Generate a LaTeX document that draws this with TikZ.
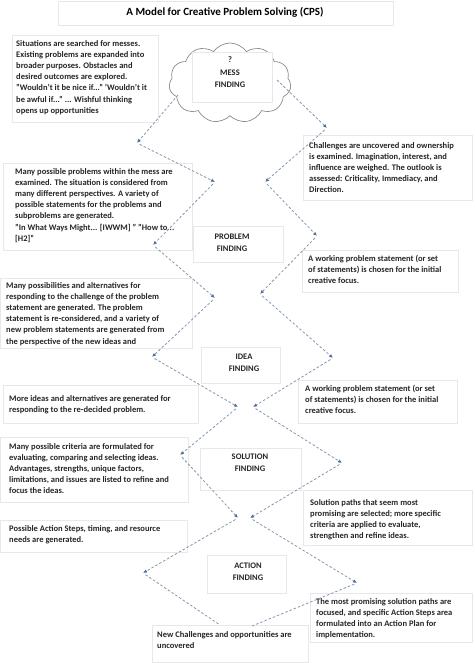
\documentclass[tikz,border=0pt]{standalone}
\usepackage{fontspec}
\setmainfont{Carlito}
\usetikzlibrary{shapes.symbols,arrows.meta}
\definecolor{linecol}{HTML}{8496B0}
\definecolor{tipcol}{HTML}{4F6F9F}
\definecolor{boxcol}{HTML}{E8E8E8}
\definecolor{cloudcol}{HTML}{8C8C8C}
\begin{document}
\begin{tikzpicture}[x=1pt,y=-1pt,
  txt/.style={anchor=north west,inner sep=0pt,align=left,font=\bfseries\fontsize{8.5}{11.2}\selectfont,text=black!85},
  lbl/.style={inner sep=0pt,align=center,font=\bfseries\fontsize{8.5}{12}\selectfont,text=black!85},
  faint/.style={draw=boxcol,line width=0.6pt},
  conn/.style={draw=linecol,line width=0.8pt,dash pattern=on 2.5pt off 2pt,shorten <=3pt,-{Latex[length=4pt,width=3.5pt,fill=tipcol,color=tipcol]}},
  connend/.style={draw=linecol,line width=0.8pt,dash pattern=on 2.5pt off 2pt,shorten <=3pt}]
\useasboundingbox (0,0) rectangle (474,663);
\fill[white] (0,0) rectangle (474,663);

% title
\draw[faint] (58,1) rectangle (393,25);
\node[font=\bfseries\fontsize{11}{13}\selectfont,inner sep=0pt] (title) at (225,12) {A Model for Creative Problem Solving (CPS)};

% cloud
\node[cloud,cloud puffs=11,cloud puff arc=110,aspect=1.6,draw=cloudcol,line width=0.7pt,fill=white,minimum width=122pt,minimum height=80pt,inner sep=0pt] (cloud) at (230,83) {};
\draw[faint,fill=white] (192,52) rectangle (272,102);
\node[lbl] (q) at (230,60) {?};
\node[lbl] (mess) at (230,79) {MESS\\FINDING};

% boxes
\draw[faint] (12,35) rectangle (158,122);
\node[txt] (t1) at (16,40) {Situations are searched for messes.\\Existing problems are expanded into\\broader purposes. Obstacles and\\desired outcomes are explored.\\"Wouldn't it be nice if..." 'Wouldn't it\\be awful if..." ... Wishful thinking\\opens up opportunities};

\draw[faint] (303,135) rectangle (472,200);
\node[txt] (t2) at (309,142) {Challenges are uncovered and ownership\\is examined. Imagination, interest, and\\influence are weighed. The outlook is\\assessed: Criticality, Immediacy, and\\Direction.};

\draw[faint] (3,163) rectangle (192,250);
\node[txt] (t3) at (15,168) {Many possible problems within the mess are\\examined. The situation is considered from\\many different perspectives. A variety of\\possible statements for the problems and\\subproblems are generated.\\ "In What Ways Might... [IWWM] " "How to...\\{[H2]"}};

\draw[faint] (193,226) rectangle (283,262);
\node[lbl] (pf) at (232,243) {PROBLEM\\FINDING};

\draw[faint] (302,250) rectangle (458,292);
\node[txt] (t4) at (308,255) {A working problem statement (or set\\of statements) is chosen for the initial\\creative focus.};

\draw[faint] (0,278) rectangle (192,348);
\node[txt] (t5) at (6,282) {Many possibilities and alternatives for\\responding to the challenge of the problem\\statement are generated. The problem\\statement is re-considered, and a variety of\\new problem statements are generated from\\the perspective of the new ideas and};

\draw[faint] (201,347) rectangle (280,383);
\node[lbl] (if) at (244,363) {IDEA\\FINDING};

\draw[faint] (3,385) rectangle (198,423);
\node[txt] (t6) at (9,395) {More ideas and alternatives are generated for\\responding to the re-decided problem.};

\draw[faint] (298,380) rectangle (457,423);
\node[txt] (t7) at (305,385) {A working problem statement (or set\\of statements) is chosen for the initial\\creative focus.};

\draw[faint] (0,437) rectangle (188,502);
\node[txt] (t8) at (9,443) {Many possible criteria are formulated for\\evaluating, comparing and selecting ideas.\\Advantages, strengths, unique factors,\\limitations, and issues are listed to refine and\\focus the ideas.};

\draw[faint] (200,448) rectangle (301,490);
\node[lbl] (sf) at (250,463) {SOLUTION\\FINDING};

\draw[faint] (303,490) rectangle (472,545);
\node[txt] (t9) at (310,499) {Solution paths that seem most\\promising are selected; more specific\\criteria are applied to evaluate,\\strengthen and refine ideas.};

\draw[faint] (0,520) rectangle (187,552);
\node[txt] (t10) at (9,525) {Possible Action Steps, timing, and resource\\needs are generated.};

\draw[faint] (207,555) rectangle (286,593);
\node[lbl] (af) at (248,572) {ACTION\\FINDING};

\draw[faint] (310,593) rectangle (472,642);
\node[txt] (t11) at (316,598) {The most promising solution paths are\\focused, and specific Action Steps area\\formulated into an Action Plan for\\implementation.};

\draw[faint] (152,625) rectangle (308,662);
\node[txt] (t12) at (157,631) {New Challenges and opportunities are\\uncovered};

% zigzag vertices
\coordinate (L0) at (178,95);
\coordinate (L1) at (137,143);
\coordinate (L2) at (215,182);
\coordinate (L3) at (153,245);
\coordinate (L4) at (215,298);
\coordinate (L5) at (152,357);
\coordinate (L6) at (238,407);
\coordinate (L7) at (180,455);
\coordinate (L8) at (238,518);
\coordinate (L9) at (143,573);
\coordinate (L10) at (220,625);
\coordinate (R0) at (277,80);
\coordinate (R1) at (327,128);
\coordinate (R2) at (265,182);
\coordinate (R3) at (317,236);
\coordinate (R4) at (260,294);
\coordinate (R5) at (333,358);
\coordinate (R6) at (253,407);
\coordinate (R7) at (342,463);
\coordinate (R8) at (250,518);
\coordinate (R9) at (357,583);
\coordinate (R10) at (252,626);

\draw[conn,shorten <=0pt] (L0) -- (L1);
\draw[conn] (L1) -- (L2);
\draw[conn] (L2) -- (L3);
\draw[conn] (L3) -- (L4);
\draw[conn] (L4) -- (L5);
\draw[conn] (L5) -- (L6);
\draw[conn] (L6) -- (L7);
\draw[conn] (L7) -- (L8);
\draw[conn] (L8) -- (L9);
\draw[connend] (L9) -- (L10);
\draw[conn,shorten <=0pt] (R0) -- (R1);
\draw[conn] (R1) -- (R2);
\draw[conn] (R2) -- (R3);
\draw[conn] (R3) -- (R4);
\draw[conn] (R4) -- (R5);
\draw[conn] (R5) -- (R6);
\draw[conn] (R6) -- (R7);
\draw[conn] (R7) -- (R8);
\draw[conn] (R8) -- (R9);
\draw[connend] (R9) -- (R10);
\end{tikzpicture}
\end{document}
